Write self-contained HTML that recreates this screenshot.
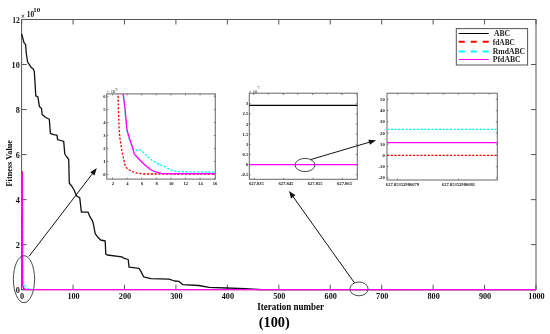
<!DOCTYPE html><html><head><meta charset="utf-8"><style>html,body{margin:0;padding:0;background:#fff;}svg{display:block;filter:blur(0.3px);}text{font-family:"Liberation Serif",serif;}</style></head><body>
<svg width="550" height="334" viewBox="0 0 550 334">
<rect width="550" height="334" fill="#fff"/>
<rect x="21.6" y="19.5" width="514.4" height="270.2" fill="none" stroke="#555" stroke-width="1"/>
<line x1="21.60" y1="289.7" x2="21.60" y2="284.7" stroke="#555" stroke-width="1"/>
<line x1="21.60" y1="19.5" x2="21.60" y2="24.5" stroke="#555" stroke-width="1"/>
<text x="22.10" y="298.6" font-size="8.2" font-weight="bold" text-anchor="middle" fill="#111">0</text>
<line x1="73.04" y1="289.7" x2="73.04" y2="284.7" stroke="#555" stroke-width="1"/>
<line x1="73.04" y1="19.5" x2="73.04" y2="24.5" stroke="#555" stroke-width="1"/>
<text x="73.54" y="298.6" font-size="8.2" font-weight="bold" text-anchor="middle" fill="#111">100</text>
<line x1="124.48" y1="289.7" x2="124.48" y2="284.7" stroke="#555" stroke-width="1"/>
<line x1="124.48" y1="19.5" x2="124.48" y2="24.5" stroke="#555" stroke-width="1"/>
<text x="124.98" y="298.6" font-size="8.2" font-weight="bold" text-anchor="middle" fill="#111">200</text>
<line x1="175.92" y1="289.7" x2="175.92" y2="284.7" stroke="#555" stroke-width="1"/>
<line x1="175.92" y1="19.5" x2="175.92" y2="24.5" stroke="#555" stroke-width="1"/>
<text x="176.42" y="298.6" font-size="8.2" font-weight="bold" text-anchor="middle" fill="#111">300</text>
<line x1="227.36" y1="289.7" x2="227.36" y2="284.7" stroke="#555" stroke-width="1"/>
<line x1="227.36" y1="19.5" x2="227.36" y2="24.5" stroke="#555" stroke-width="1"/>
<text x="227.86" y="298.6" font-size="8.2" font-weight="bold" text-anchor="middle" fill="#111">400</text>
<line x1="278.80" y1="289.7" x2="278.80" y2="284.7" stroke="#555" stroke-width="1"/>
<line x1="278.80" y1="19.5" x2="278.80" y2="24.5" stroke="#555" stroke-width="1"/>
<text x="279.30" y="298.6" font-size="8.2" font-weight="bold" text-anchor="middle" fill="#111">500</text>
<line x1="330.24" y1="289.7" x2="330.24" y2="284.7" stroke="#555" stroke-width="1"/>
<line x1="330.24" y1="19.5" x2="330.24" y2="24.5" stroke="#555" stroke-width="1"/>
<text x="330.74" y="298.6" font-size="8.2" font-weight="bold" text-anchor="middle" fill="#111">600</text>
<line x1="381.68" y1="289.7" x2="381.68" y2="284.7" stroke="#555" stroke-width="1"/>
<line x1="381.68" y1="19.5" x2="381.68" y2="24.5" stroke="#555" stroke-width="1"/>
<text x="382.18" y="298.6" font-size="8.2" font-weight="bold" text-anchor="middle" fill="#111">700</text>
<line x1="433.12" y1="289.7" x2="433.12" y2="284.7" stroke="#555" stroke-width="1"/>
<line x1="433.12" y1="19.5" x2="433.12" y2="24.5" stroke="#555" stroke-width="1"/>
<text x="433.62" y="298.6" font-size="8.2" font-weight="bold" text-anchor="middle" fill="#111">800</text>
<line x1="484.56" y1="289.7" x2="484.56" y2="284.7" stroke="#555" stroke-width="1"/>
<line x1="484.56" y1="19.5" x2="484.56" y2="24.5" stroke="#555" stroke-width="1"/>
<text x="485.06" y="298.6" font-size="8.2" font-weight="bold" text-anchor="middle" fill="#111">900</text>
<line x1="536.00" y1="289.7" x2="536.00" y2="284.7" stroke="#555" stroke-width="1"/>
<line x1="536.00" y1="19.5" x2="536.00" y2="24.5" stroke="#555" stroke-width="1"/>
<text x="536.50" y="298.6" font-size="8.2" font-weight="bold" text-anchor="middle" fill="#111">1000</text>
<line x1="21.6" y1="289.70" x2="26.6" y2="289.70" stroke="#555" stroke-width="1"/>
<line x1="536.0" y1="289.70" x2="531.0" y2="289.70" stroke="#555" stroke-width="1"/>
<text x="19.8" y="292.90" font-size="8.2" font-weight="bold" text-anchor="end" fill="#111">0</text>
<line x1="21.6" y1="244.67" x2="26.6" y2="244.67" stroke="#555" stroke-width="1"/>
<line x1="536.0" y1="244.67" x2="531.0" y2="244.67" stroke="#555" stroke-width="1"/>
<text x="19.8" y="247.87" font-size="8.2" font-weight="bold" text-anchor="end" fill="#111">2</text>
<line x1="21.6" y1="199.63" x2="26.6" y2="199.63" stroke="#555" stroke-width="1"/>
<line x1="536.0" y1="199.63" x2="531.0" y2="199.63" stroke="#555" stroke-width="1"/>
<text x="19.8" y="202.83" font-size="8.2" font-weight="bold" text-anchor="end" fill="#111">4</text>
<line x1="21.6" y1="154.60" x2="26.6" y2="154.60" stroke="#555" stroke-width="1"/>
<line x1="536.0" y1="154.60" x2="531.0" y2="154.60" stroke="#555" stroke-width="1"/>
<text x="19.8" y="157.80" font-size="8.2" font-weight="bold" text-anchor="end" fill="#111">6</text>
<line x1="21.6" y1="109.57" x2="26.6" y2="109.57" stroke="#555" stroke-width="1"/>
<line x1="536.0" y1="109.57" x2="531.0" y2="109.57" stroke="#555" stroke-width="1"/>
<text x="19.8" y="112.77" font-size="8.2" font-weight="bold" text-anchor="end" fill="#111">8</text>
<line x1="21.6" y1="64.53" x2="26.6" y2="64.53" stroke="#555" stroke-width="1"/>
<line x1="536.0" y1="64.53" x2="531.0" y2="64.53" stroke="#555" stroke-width="1"/>
<text x="19.8" y="67.73" font-size="8.2" font-weight="bold" text-anchor="end" fill="#111">10</text>
<line x1="21.6" y1="19.50" x2="26.6" y2="19.50" stroke="#555" stroke-width="1"/>
<line x1="536.0" y1="19.50" x2="531.0" y2="19.50" stroke="#555" stroke-width="1"/>
<text x="19.8" y="22.80" font-size="7.6" font-weight="bold" text-anchor="end" fill="#111">12</text>
<text x="20.7" y="19.3" font-size="7.5" font-weight="bold" fill="#222">×</text>
<text x="26.7" y="16.6" font-size="7.4" font-weight="bold" fill="#111">10</text>
<text x="33.3" y="12.0" font-size="7.0" font-weight="bold" fill="#111">10</text>
<text x="257.3" y="310" font-size="9.3" font-weight="bold" fill="#000" textLength="66.6" lengthAdjust="spacingAndGlyphs">Iteration number</text>
<text transform="translate(11.6,186.4) rotate(-90)" font-size="9.2" font-weight="bold" fill="#000" textLength="46.3" lengthAdjust="spacingAndGlyphs">Fitness Value</text>
<text x="258.8" y="327.2" font-size="14.3" font-weight="bold" fill="#000">(100)</text>
<polyline fill="none" stroke="#111" stroke-width="1.3" stroke-linejoin="round" points="21.7,34 24,42.6 25.6,44.6 26.3,53.5 27.6,62 29.2,64.4 31.3,67.6 33.2,68.7 34.3,71.5 35.8,95.9 37.9,96.8 39.4,106.6 41.5,108.4 42.2,114.5 45.4,117.2 49.3,119.3 50.4,133.3 53.5,134.6 57,135.1 57.6,139.6 60.6,140.5 63.7,141.4 64.8,154 66.9,157 68.7,159.3 69.3,183.3 71.7,186 74.3,190.5 76.5,195.9 79.7,197.7 81.4,212.2 88.1,212.2 89.9,216.7 92.6,221.1 93.5,224.7 95.2,233.7 97.9,237.3 100.6,240 105.2,241 105.8,254.2 107.3,255 121.8,256.8 123.6,258.1 128.2,259.5 129.1,267.2 139.1,268.3 140.9,271.4 143.6,276.8 150.9,278.6 169.1,279.2 174.5,281 179.1,281.4 182.7,284.6 198.9,285.5 209.1,287.4 226.4,288.0 245.3,288.7 258,289.5 262,289.7 536,289.7"/>
<polyline fill="none" stroke="#f00" stroke-width="1.1" stroke-dasharray="3,2" points="22.4,171.2 22.5,280 23.5,289.2 30,289.7"/>
<polyline fill="none" stroke="#0ff" stroke-width="1.1" stroke-dasharray="3,2" points="22.5,200 22.9,282 25.6,287 30,289.7"/>
<polyline fill="none" stroke="#f0f" stroke-width="1.3" points="22.4,172.6 22.6,285 23.9,288.7 26.2,289.7 536,289.7"/>
<ellipse cx="24" cy="279.2" rx="10.6" ry="23.5" fill="none" stroke="#333" stroke-width="0.9"/>
<ellipse cx="359" cy="288.9" rx="9.1" ry="6.9" fill="none" stroke="#333" stroke-width="0.9"/>
<rect x="456.3" y="28.6" width="71.3" height="36.4" fill="#fff" stroke="#555" stroke-width="1"/>
<line x1="458.7" y1="33.5" x2="488.7" y2="33.5" stroke="#000" stroke-width="1"/>
<line x1="458.7" y1="41.7" x2="488.7" y2="41.7" stroke="#f00" stroke-width="2" stroke-dasharray="6,6"/>
<line x1="458.7" y1="51.6" x2="488.7" y2="51.6" stroke="#0ff" stroke-width="2" stroke-dasharray="6,6"/>
<line x1="458.7" y1="59.5" x2="488.7" y2="59.5" stroke="#f0f" stroke-width="1"/>
<text x="494.0" y="36.3" font-size="8.1" font-weight="bold" fill="#222" textLength="16.1" lengthAdjust="spacingAndGlyphs">ABC</text>
<text x="492.8" y="45.0" font-size="8.1" font-weight="bold" fill="#222" textLength="22.1" lengthAdjust="spacingAndGlyphs">fdABC</text>
<text x="492.8" y="53.9" font-size="8.1" font-weight="bold" fill="#222" textLength="32.3" lengthAdjust="spacingAndGlyphs">RmdABC</text>
<text x="492.8" y="62.0" font-size="8.1" font-weight="bold" fill="#222" textLength="27.9" lengthAdjust="spacingAndGlyphs">PfdABC</text>
<rect x="106.8" y="93.9" width="108.50000000000001" height="85.19999999999999" fill="#fff" stroke="#666" stroke-width="1"/>
<line x1="112.60" y1="179.1" x2="112.60" y2="177.6" stroke="#666" stroke-width="0.8"/>
<line x1="112.60" y1="93.9" x2="112.60" y2="95.4" stroke="#666" stroke-width="0.8"/>
<text x="112.90" y="184.8" font-size="4.6" font-weight="bold" text-anchor="middle" fill="#111">2</text>
<line x1="127.18" y1="179.1" x2="127.18" y2="177.6" stroke="#666" stroke-width="0.8"/>
<line x1="127.18" y1="93.9" x2="127.18" y2="95.4" stroke="#666" stroke-width="0.8"/>
<text x="127.48" y="184.8" font-size="4.6" font-weight="bold" text-anchor="middle" fill="#111">4</text>
<line x1="141.76" y1="179.1" x2="141.76" y2="177.6" stroke="#666" stroke-width="0.8"/>
<line x1="141.76" y1="93.9" x2="141.76" y2="95.4" stroke="#666" stroke-width="0.8"/>
<text x="142.06" y="184.8" font-size="4.6" font-weight="bold" text-anchor="middle" fill="#111">6</text>
<line x1="156.34" y1="179.1" x2="156.34" y2="177.6" stroke="#666" stroke-width="0.8"/>
<line x1="156.34" y1="93.9" x2="156.34" y2="95.4" stroke="#666" stroke-width="0.8"/>
<text x="156.64" y="184.8" font-size="4.6" font-weight="bold" text-anchor="middle" fill="#111">8</text>
<line x1="170.92" y1="179.1" x2="170.92" y2="177.6" stroke="#666" stroke-width="0.8"/>
<line x1="170.92" y1="93.9" x2="170.92" y2="95.4" stroke="#666" stroke-width="0.8"/>
<text x="171.22" y="184.8" font-size="4.6" font-weight="bold" text-anchor="middle" fill="#111">10</text>
<line x1="185.50" y1="179.1" x2="185.50" y2="177.6" stroke="#666" stroke-width="0.8"/>
<line x1="185.50" y1="93.9" x2="185.50" y2="95.4" stroke="#666" stroke-width="0.8"/>
<text x="185.80" y="184.8" font-size="4.6" font-weight="bold" text-anchor="middle" fill="#111">12</text>
<line x1="200.08" y1="179.1" x2="200.08" y2="177.6" stroke="#666" stroke-width="0.8"/>
<line x1="200.08" y1="93.9" x2="200.08" y2="95.4" stroke="#666" stroke-width="0.8"/>
<text x="200.38" y="184.8" font-size="4.6" font-weight="bold" text-anchor="middle" fill="#111">14</text>
<line x1="214.66" y1="179.1" x2="214.66" y2="177.6" stroke="#666" stroke-width="0.8"/>
<line x1="214.66" y1="93.9" x2="214.66" y2="95.4" stroke="#666" stroke-width="0.8"/>
<text x="214.96" y="184.8" font-size="4.6" font-weight="bold" text-anchor="middle" fill="#111">16</text>
<line x1="106.8" y1="174.50" x2="108.3" y2="174.50" stroke="#666" stroke-width="0.8"/>
<line x1="215.3" y1="174.50" x2="213.8" y2="174.50" stroke="#666" stroke-width="0.8"/>
<text x="105.50" y="176.10" font-size="4.6" font-weight="bold" text-anchor="end" fill="#111">0</text>
<line x1="106.8" y1="161.52" x2="108.3" y2="161.52" stroke="#666" stroke-width="0.8"/>
<line x1="215.3" y1="161.52" x2="213.8" y2="161.52" stroke="#666" stroke-width="0.8"/>
<text x="105.50" y="163.12" font-size="4.6" font-weight="bold" text-anchor="end" fill="#111">1</text>
<line x1="106.8" y1="148.54" x2="108.3" y2="148.54" stroke="#666" stroke-width="0.8"/>
<line x1="215.3" y1="148.54" x2="213.8" y2="148.54" stroke="#666" stroke-width="0.8"/>
<text x="105.50" y="150.14" font-size="4.6" font-weight="bold" text-anchor="end" fill="#111">2</text>
<line x1="106.8" y1="135.56" x2="108.3" y2="135.56" stroke="#666" stroke-width="0.8"/>
<line x1="215.3" y1="135.56" x2="213.8" y2="135.56" stroke="#666" stroke-width="0.8"/>
<text x="105.50" y="137.16" font-size="4.6" font-weight="bold" text-anchor="end" fill="#111">3</text>
<line x1="106.8" y1="122.58" x2="108.3" y2="122.58" stroke="#666" stroke-width="0.8"/>
<line x1="215.3" y1="122.58" x2="213.8" y2="122.58" stroke="#666" stroke-width="0.8"/>
<text x="105.50" y="124.18" font-size="4.6" font-weight="bold" text-anchor="end" fill="#111">4</text>
<line x1="106.8" y1="109.60" x2="108.3" y2="109.60" stroke="#666" stroke-width="0.8"/>
<line x1="215.3" y1="109.60" x2="213.8" y2="109.60" stroke="#666" stroke-width="0.8"/>
<text x="105.50" y="111.20" font-size="4.6" font-weight="bold" text-anchor="end" fill="#111">5</text>
<line x1="106.8" y1="96.62" x2="108.3" y2="96.62" stroke="#666" stroke-width="0.8"/>
<line x1="215.3" y1="96.62" x2="213.8" y2="96.62" stroke="#666" stroke-width="0.8"/>
<text x="105.50" y="98.22" font-size="4.6" font-weight="bold" text-anchor="end" fill="#111">6</text>
<text x="106.5" y="92.9" font-size="4.4" fill="#222">×</text><text x="110.7" y="93.4" font-size="4.6" fill="#222">10</text><text x="115.6" y="90.5" font-size="3.8" fill="#222">9</text>
<clipPath id="c1"><rect x="106.8" y="93.9" width="108.50000000000001" height="85.19999999999999"/></clipPath>
<g clip-path="url(#c1)">
<polyline fill="none" stroke="#f00" stroke-width="1.3" stroke-dasharray="2.2,1.6" points="118.0,92 118.4,110 119.2,130 120,139 122.2,152.5 125.2,166 127.5,169.2 135,172.7 143.9,174.0 215.3,174.0"/>
<polyline fill="none" stroke="#0ff" stroke-width="1.3" stroke-dasharray="2.2,1.6" points="123.4,92 124.6,105 124.9,112 126.5,130 129.2,139 132.6,148.2 134.5,150.1 141.1,150.1 144.5,153.8 150.4,159.1 156.4,163.2 160,164.8 165,166.6 168.5,168.8 172,170.5 178,171.7 210,172.0 215.3,172.6"/>
<polyline fill="none" stroke="#f0f" stroke-width="1.3" points="122.8,92 125.2,110 127,130 129.7,139 132.7,148 134.2,154 140,160.3 144.1,164.3 150,169.3 155.6,172.0 161.5,173.3 166,173.6 215.3,173.7"/>
</g>
<rect x="249.3" y="93.2" width="108.0" height="86.10000000000001" fill="#fff" stroke="#666" stroke-width="1"/>
<line x1="253.60" y1="93.2" x2="253.60" y2="94.7" stroke="#666" stroke-width="0.8"/>
<line x1="268.30" y1="93.2" x2="268.30" y2="94.7" stroke="#666" stroke-width="0.8"/>
<line x1="283.00" y1="93.2" x2="283.00" y2="94.7" stroke="#666" stroke-width="0.8"/>
<line x1="297.70" y1="93.2" x2="297.70" y2="94.7" stroke="#666" stroke-width="0.8"/>
<line x1="312.40" y1="93.2" x2="312.40" y2="94.7" stroke="#666" stroke-width="0.8"/>
<line x1="327.10" y1="93.2" x2="327.10" y2="94.7" stroke="#666" stroke-width="0.8"/>
<line x1="341.80" y1="93.2" x2="341.80" y2="94.7" stroke="#666" stroke-width="0.8"/>
<line x1="356.50" y1="93.2" x2="356.50" y2="94.7" stroke="#666" stroke-width="0.8"/>
<line x1="254.20" y1="179.3" x2="254.20" y2="177.8" stroke="#666" stroke-width="0.8"/>
<line x1="254.20" y1="93.2" x2="254.20" y2="94.7" stroke="#666" stroke-width="0.8"/>
<text x="256.40" y="184.6" font-size="4.6" font-weight="bold" text-anchor="middle" fill="#111">627.835</text>
<line x1="283.70" y1="179.3" x2="283.70" y2="177.8" stroke="#666" stroke-width="0.8"/>
<line x1="283.70" y1="93.2" x2="283.70" y2="94.7" stroke="#666" stroke-width="0.8"/>
<text x="285.90" y="184.6" font-size="4.6" font-weight="bold" text-anchor="middle" fill="#111">627.845</text>
<line x1="313.00" y1="179.3" x2="313.00" y2="177.8" stroke="#666" stroke-width="0.8"/>
<line x1="313.00" y1="93.2" x2="313.00" y2="94.7" stroke="#666" stroke-width="0.8"/>
<text x="315.20" y="184.6" font-size="4.6" font-weight="bold" text-anchor="middle" fill="#111">627.855</text>
<line x1="342.30" y1="179.3" x2="342.30" y2="177.8" stroke="#666" stroke-width="0.8"/>
<line x1="342.30" y1="93.2" x2="342.30" y2="94.7" stroke="#666" stroke-width="0.8"/>
<text x="344.50" y="184.6" font-size="4.6" font-weight="bold" text-anchor="middle" fill="#111">627.865</text>
<line x1="249.3" y1="174.75" x2="250.8" y2="174.75" stroke="#666" stroke-width="0.8"/>
<line x1="357.3" y1="174.75" x2="355.8" y2="174.75" stroke="#666" stroke-width="0.8"/>
<text x="248.30" y="176.35" font-size="4.6" font-weight="bold" text-anchor="end" fill="#111">-0.5</text>
<line x1="249.3" y1="164.60" x2="250.8" y2="164.60" stroke="#666" stroke-width="0.8"/>
<line x1="357.3" y1="164.60" x2="355.8" y2="164.60" stroke="#666" stroke-width="0.8"/>
<text x="248.30" y="166.20" font-size="4.6" font-weight="bold" text-anchor="end" fill="#111">0</text>
<line x1="249.3" y1="154.45" x2="250.8" y2="154.45" stroke="#666" stroke-width="0.8"/>
<line x1="357.3" y1="154.45" x2="355.8" y2="154.45" stroke="#666" stroke-width="0.8"/>
<text x="248.30" y="156.05" font-size="4.6" font-weight="bold" text-anchor="end" fill="#111">0.5</text>
<line x1="249.3" y1="144.30" x2="250.8" y2="144.30" stroke="#666" stroke-width="0.8"/>
<line x1="357.3" y1="144.30" x2="355.8" y2="144.30" stroke="#666" stroke-width="0.8"/>
<text x="248.30" y="145.90" font-size="4.6" font-weight="bold" text-anchor="end" fill="#111">1</text>
<line x1="249.3" y1="134.15" x2="250.8" y2="134.15" stroke="#666" stroke-width="0.8"/>
<line x1="357.3" y1="134.15" x2="355.8" y2="134.15" stroke="#666" stroke-width="0.8"/>
<text x="248.30" y="135.75" font-size="4.6" font-weight="bold" text-anchor="end" fill="#111">1.5</text>
<line x1="249.3" y1="124.00" x2="250.8" y2="124.00" stroke="#666" stroke-width="0.8"/>
<line x1="357.3" y1="124.00" x2="355.8" y2="124.00" stroke="#666" stroke-width="0.8"/>
<text x="248.30" y="125.60" font-size="4.6" font-weight="bold" text-anchor="end" fill="#111">2</text>
<line x1="249.3" y1="113.85" x2="250.8" y2="113.85" stroke="#666" stroke-width="0.8"/>
<line x1="357.3" y1="113.85" x2="355.8" y2="113.85" stroke="#666" stroke-width="0.8"/>
<text x="248.30" y="115.45" font-size="4.6" font-weight="bold" text-anchor="end" fill="#111">2.5</text>
<line x1="249.3" y1="103.70" x2="250.8" y2="103.70" stroke="#666" stroke-width="0.8"/>
<line x1="357.3" y1="103.70" x2="355.8" y2="103.70" stroke="#666" stroke-width="0.8"/>
<text x="248.30" y="105.30" font-size="4.6" font-weight="bold" text-anchor="end" fill="#111">3</text>
<text x="249.0" y="92.60000000000001" font-size="4.4" fill="#222">×</text><text x="252.8" y="92.9" font-size="4.6" fill="#222">10</text><text x="257.6" y="89.3" font-size="3.8" fill="#222">7</text>
<line x1="249.3" y1="105.4" x2="357.3" y2="105.4" stroke="#000" stroke-width="1.1"/>
<line x1="249.3" y1="164.6" x2="357.3" y2="164.6" stroke="#f0f" stroke-width="1.3"/>
<ellipse cx="305" cy="165" rx="9.9" ry="6.6" fill="none" stroke="#333" stroke-width="0.9"/>
<rect x="387.0" y="93.2" width="110.30000000000001" height="86.8" fill="#fff" stroke="#666" stroke-width="1"/>
<line x1="387.0" y1="177.80" x2="388.5" y2="177.80" stroke="#666" stroke-width="0.8"/>
<line x1="497.3" y1="177.80" x2="495.8" y2="177.80" stroke="#666" stroke-width="0.8"/>
<text x="384.70" y="179.40" font-size="4.6" font-weight="bold" text-anchor="end" fill="#111">-20</text>
<line x1="387.0" y1="166.60" x2="388.5" y2="166.60" stroke="#666" stroke-width="0.8"/>
<line x1="497.3" y1="166.60" x2="495.8" y2="166.60" stroke="#666" stroke-width="0.8"/>
<text x="384.70" y="168.20" font-size="4.6" font-weight="bold" text-anchor="end" fill="#111">-10</text>
<line x1="387.0" y1="155.40" x2="388.5" y2="155.40" stroke="#666" stroke-width="0.8"/>
<line x1="497.3" y1="155.40" x2="495.8" y2="155.40" stroke="#666" stroke-width="0.8"/>
<text x="384.70" y="157.00" font-size="4.6" font-weight="bold" text-anchor="end" fill="#111">0</text>
<line x1="387.0" y1="144.20" x2="388.5" y2="144.20" stroke="#666" stroke-width="0.8"/>
<line x1="497.3" y1="144.20" x2="495.8" y2="144.20" stroke="#666" stroke-width="0.8"/>
<text x="384.70" y="145.80" font-size="4.6" font-weight="bold" text-anchor="end" fill="#111">10</text>
<line x1="387.0" y1="133.00" x2="388.5" y2="133.00" stroke="#666" stroke-width="0.8"/>
<line x1="497.3" y1="133.00" x2="495.8" y2="133.00" stroke="#666" stroke-width="0.8"/>
<text x="384.70" y="134.60" font-size="4.6" font-weight="bold" text-anchor="end" fill="#111">20</text>
<line x1="387.0" y1="121.80" x2="388.5" y2="121.80" stroke="#666" stroke-width="0.8"/>
<line x1="497.3" y1="121.80" x2="495.8" y2="121.80" stroke="#666" stroke-width="0.8"/>
<text x="384.70" y="123.40" font-size="4.6" font-weight="bold" text-anchor="end" fill="#111">30</text>
<line x1="387.0" y1="110.60" x2="388.5" y2="110.60" stroke="#666" stroke-width="0.8"/>
<line x1="497.3" y1="110.60" x2="495.8" y2="110.60" stroke="#666" stroke-width="0.8"/>
<text x="384.70" y="112.20" font-size="4.6" font-weight="bold" text-anchor="end" fill="#111">40</text>
<line x1="387.0" y1="99.40" x2="388.5" y2="99.40" stroke="#666" stroke-width="0.8"/>
<line x1="497.3" y1="99.40" x2="495.8" y2="99.40" stroke="#666" stroke-width="0.8"/>
<text x="384.70" y="101.00" font-size="4.6" font-weight="bold" text-anchor="end" fill="#111">50</text>
<line x1="397.40" y1="93.2" x2="397.40" y2="94.7" stroke="#666" stroke-width="0.8"/>
<line x1="412.70" y1="93.2" x2="412.70" y2="94.7" stroke="#666" stroke-width="0.8"/>
<line x1="428.00" y1="93.2" x2="428.00" y2="94.7" stroke="#666" stroke-width="0.8"/>
<line x1="443.30" y1="93.2" x2="443.30" y2="94.7" stroke="#666" stroke-width="0.8"/>
<line x1="458.60" y1="93.2" x2="458.60" y2="94.7" stroke="#666" stroke-width="0.8"/>
<line x1="473.90" y1="93.2" x2="473.90" y2="94.7" stroke="#666" stroke-width="0.8"/>
<line x1="489.20" y1="93.2" x2="489.20" y2="94.7" stroke="#666" stroke-width="0.8"/>
<line x1="397.50" y1="180.0" x2="397.50" y2="178.5" stroke="#666" stroke-width="0.8"/>
<line x1="458.30" y1="180.0" x2="458.30" y2="178.5" stroke="#666" stroke-width="0.8"/>
<text x="402.5" y="186.3" font-size="4.6" font-weight="bold" text-anchor="middle" fill="#111">627.85352986679</text>
<text x="458.5" y="186.3" font-size="4.6" font-weight="bold" text-anchor="middle" fill="#111">627.85352986681</text>
<line x1="387.0" y1="129.3" x2="497.3" y2="129.3" stroke="#0ff" stroke-width="1.3" stroke-dasharray="2.2,1.5"/>
<line x1="387.0" y1="142.6" x2="497.3" y2="142.6" stroke="#f0f" stroke-width="1.3"/>
<line x1="387.0" y1="155.4" x2="497.3" y2="155.4" stroke="#f00" stroke-width="1.3" stroke-dasharray="2.2,1.5"/>
<line x1="29" y1="256.4" x2="92.36" y2="173.79" stroke="#111" stroke-width="1"/><polygon points="96.8,168 94.50,175.44 90.21,172.15" fill="#111"/>
<line x1="354.7" y1="283.2" x2="293.23" y2="196.85" stroke="#111" stroke-width="1"/><polygon points="289,190.9 295.43,195.28 291.03,198.41" fill="#111"/>
<line x1="310.6" y1="159.6" x2="369.10" y2="142.27" stroke="#111" stroke-width="1"/><polygon points="376.1,140.2 369.87,144.86 368.33,139.68" fill="#111"/>
</svg></body></html>
